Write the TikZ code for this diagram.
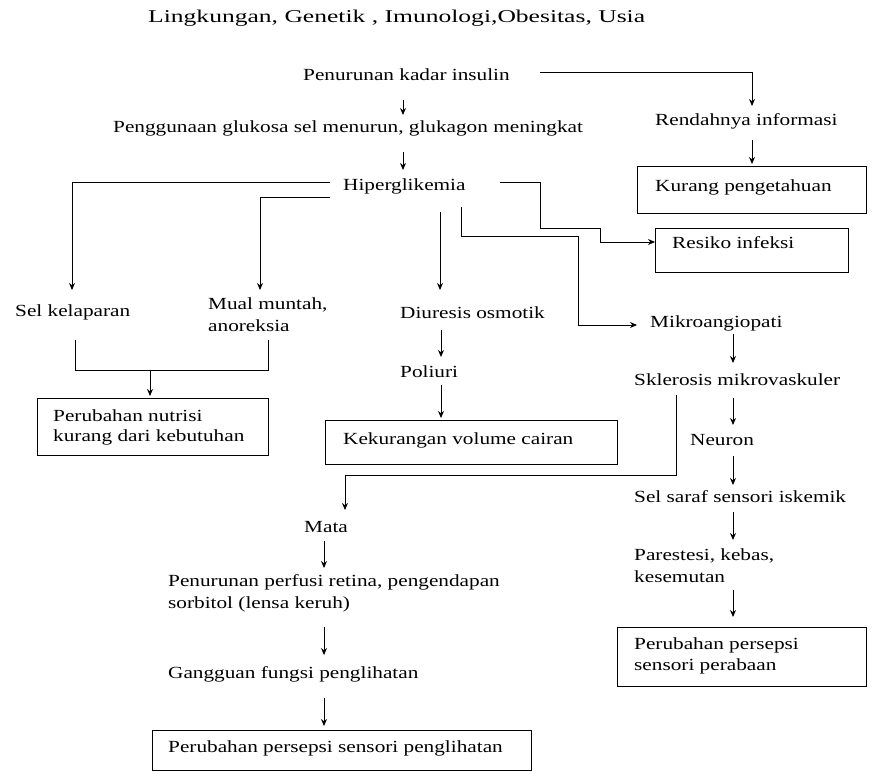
\documentclass[tikz,border=0pt]{standalone}
\usepackage{fontspec}
\setmainfont{Liberation Serif}
\usetikzlibrary{arrows.meta}
\newcommand\SX[1]{\scalebox{1.25}[1]{\fontsize{17}{21}\selectfont #1}}
\tikzset{t/.style={inner sep=0pt,anchor=west},
 ar/.style={-{Stealth[length=7pt,width=6pt]},line width=0.9pt},
 ln/.style={line width=0.9pt},
 bx/.style={draw,line width=0.9pt}}
\begin{document}
\begin{tikzpicture}[x=1pt,y=-1pt]
\useasboundingbox (0,0) rectangle (877,771);
\node[t] (title) at (148,18) {\scalebox{1.42}[1]{\fontsize{18}{21}\selectfont Lingkungan, Genetik , Imunologi,Obesitas, Usia}};
\node[t] (ins) at (303,75) {\SX{Penurunan kadar insulin}};
\node[t] (rend) at (655,121) {\SX{Rendahnya informasi}};
\draw[bx] (637,166) rectangle (866,213);
\node[t] (kur) at (655,187) {\SX{Kurang pengetahuan}};
\node[t] (gluk) at (113,128) {\SX{Penggunaan glukosa sel menurun, glukagon meningkat}};
\node[t] (hip) at (343,186) {\SX{Hiperglikemia}};
\draw[bx] (655,228) rectangle (848,272);
\node[t] (res) at (672,243) {\SX{Resiko infeksi}};
\node[t] (sel) at (15,312) {\SX{Sel kelaparan}};
\node[t] (mual1) at (208,305) {\SX{Mual muntah,}};
\node[t] (mual2) at (208,326) {\SX{anoreksia}};
\node[t] (diu) at (400,313) {\SX{Diuresis osmotik}};
\node[t] (mik) at (650,323) {\SX{Mikroangiopati}};
\draw[bx] (37,398) rectangle (268,455);
\node[t] (nut1) at (53,416) {\SX{Perubahan nutrisi}};
\node[t] (nut2) at (53,437) {\SX{kurang dari kebutuhan}};
\node[t] (pol) at (400,372) {\SX{Poliuri}};
\draw[bx] (325,420) rectangle (617,464);
\node[t] (kek) at (343,440) {\SX{Kekurangan volume cairan}};
\node[t] (skl) at (634,380) {\SX{Sklerosis mikrovaskuler}};
\node[t] (neu) at (690,440) {\SX{Neuron}};
\node[t] (ssi) at (634,497) {\SX{Sel saraf sensori iskemik}};
\node[t] (par1) at (634,556) {\SX{Parestesi, kebas,}};
\node[t] (par2) at (634,577) {\SX{kesemutan}};
\draw[bx] (617,627) rectangle (866,686);
\node[t] (pp1) at (634,645) {\SX{Perubahan persepsi}};
\node[t] (pp2) at (634,666) {\SX{sensori perabaan}};
\node[t] (mata) at (304,527) {\SX{Mata}};
\node[t] (pr1) at (168,582) {\SX{Penurunan perfusi retina, pengendapan}};
\node[t] (pr2) at (168,604) {\SX{sorbitol (lensa keruh)}};
\node[t] (gan) at (168,674) {\SX{Gangguan fungsi penglihatan}};
\draw[bx] (152,730) rectangle (531,770);
\node[t] (ppl) at (168,748) {\SX{Perubahan persepsi sensori penglihatan}};
% connectors
\draw[ar] (540,72) -| (752,106);
\draw[ar] (752,140) -- (752,164);
\draw[ar] (403,100) -- (403,115);
\draw[ar] (403,152) -- (403,170);
\draw[ar] (330,182) -| (72,290);
\draw[ar] (330,197) -| (260,290);
\draw[ar] (500,182) -| (540,228) -| (600,242) -- (655,242);
\draw[ar] (461,207) |- (578,236) |- (637,325);
\draw[ar] (440,212) -- (440,290);
\draw[ln] (75,340) |- (268,370) -- (268,340);
\draw[ar] (150,370) -- (150,396);
\draw[ar] (441,330) -- (441,357);
\draw[ar] (441,385) -- (441,418);
\draw[ar] (733,334) -- (733,363);
\draw[ar] (733,398) -- (733,425);
\draw[ar] (733,456) -- (733,485);
\draw[ar] (733,512) -- (733,540);
\draw[ar] (733,590) -- (733,617);
\draw[ar] (676,395) |- (345,475) -- (345,510);
\draw[ar] (324,541) -- (324,568);
\draw[ar] (324,627) -- (324,655);
\draw[ar] (324,698) -- (324,726);
\end{tikzpicture}
\end{document}
